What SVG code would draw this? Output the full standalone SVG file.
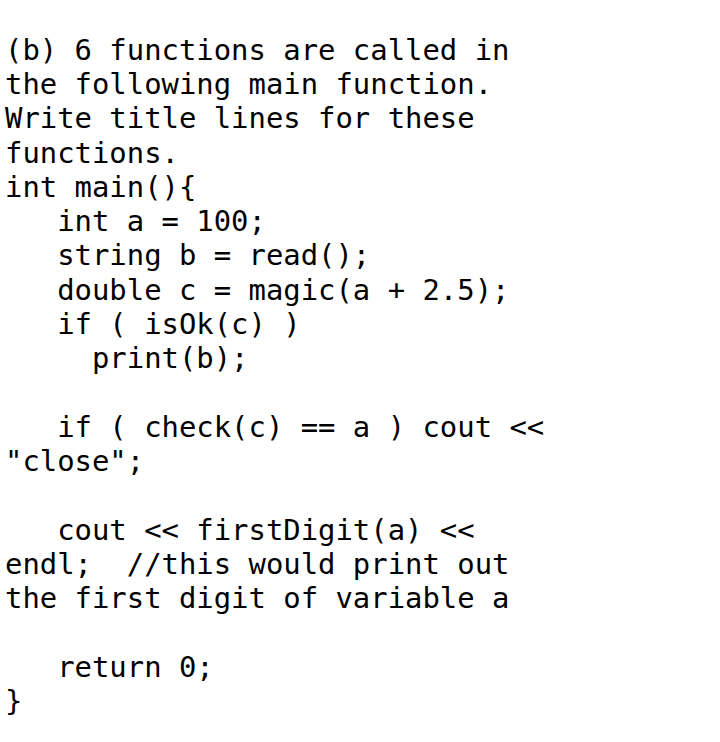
<svg xmlns="http://www.w3.org/2000/svg" width="720" height="742" viewBox="0 0 720 742">
<style>text{font-family:"DejaVu Sans Mono","Liberation Mono",monospace;font-size:28.9px;fill:#000;white-space:pre}</style>
<rect width="720" height="742" fill="#fff"/>
<g id="code" xml:space="preserve">
<text x="5" y="60">(b) 6 functions are called in</text>
<text x="5" y="94">the following main function.</text>
<text x="5" y="128">Write title lines for these</text>
<text x="5" y="163">functions.</text>
<text x="5" y="197">int main(){</text>
<text x="5" y="231">   int a = 100;</text>
<text x="5" y="265">   string b = read();</text>
<text x="5" y="300">   double c = magic(a + 2.5);</text>
<text x="5" y="334">   if ( isOk(c) )</text>
<text x="5" y="368">     print(b);</text>
<text x="5" y="437">   if ( check(c) == a ) cout &lt;&lt;</text>
<text x="5" y="471">"close";</text>
<text x="5" y="540">   cout &lt;&lt; firstDigit(a) &lt;&lt;</text>
<text x="5" y="574">endl;  //this would print out</text>
<text x="5" y="608">the first digit of variable a</text>
<text x="5" y="677">   return 0;</text>
<text x="5" y="711">}</text>
</g>
</svg>
